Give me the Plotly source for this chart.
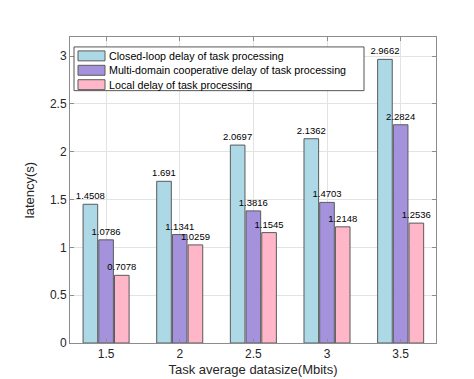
import plotly.graph_objects as go

datasize = [1.5, 2, 2.5, 3, 3.5]
closed_loop = [1.4508, 1.691, 2.0697, 2.1362, 2.9662]
multi_domain = [1.0786, 1.1341, 1.3816, 1.4703, 2.2824]
local_delay = [0.7078, 1.0259, 1.1545, 1.2148, 1.2536]
series_names = [
    "Closed-loop delay of task processing",
    "Multi-domain cooperative delay of task processing",
    "Local delay of task processing",
]
series_colors = ["#ADD8E6", "#A592DC", "#FFB6C8"]
series_values = [closed_loop, multi_domain, local_delay]

W, H = 474, 379
ML, MR, MT, MB = 62, 46, 29, 42
PW, PH = W - ML - MR, H - MT - MB

def px_x(px):
    return (px - ML) / PW

def px_y(py):
    return (H - MB - py) / PH

fig = go.Figure()
for name, vals, col in zip(series_names, series_values, series_colors):
    fig.add_trace(go.Bar(
        x=datasize, y=vals, name=name,
        marker=dict(color=col, line=dict(color="#5a5a5a", width=1)),
        text=[f"{v:g}" for v in vals], textposition="outside",
        textfont=dict(size=9.5, color="black", family="Liberation Sans, Arial"),
        cliponaxis=False, showlegend=False,
    ))

axis_common = dict(
    showgrid=True, gridcolor="#e3e3e3", gridwidth=1,
    showline=True, linecolor="#8c8c8c", linewidth=1, mirror="ticks",
    ticks="inside", ticklen=4, tickcolor="#8c8c8c",
    tickfont=dict(size=12, color="#262626"), zeroline=False,
)

# custom legend box (layout decoration)
shapes = [dict(type="rect", xref="paper", yref="paper",
               x0=px_x(66), x1=px_x(356), y0=px_y(83), y1=px_y(39),
               fillcolor="white", line=dict(color="#555555", width=1), layer="above")]
annotations = []
row_centers = [48, 62.5, 77]
for name, col, yc in zip(series_names, series_colors, row_centers):
    shapes.append(dict(type="rect", xref="paper", yref="paper",
                       x0=px_x(70), x1=px_x(97), y0=px_y(yc + 5), y1=px_y(yc - 5),
                       fillcolor=col, line=dict(color="#5a5a5a", width=1), layer="above"))
    annotations.append(dict(xref="paper", yref="paper", x=px_x(99), y=px_y(yc),
                            xanchor="left", yanchor="middle", text=name, showarrow=False,
                            font=dict(size=10.7, color="black")))

fig.update_layout(
    width=W, height=H,
    margin=dict(l=ML, r=MR, t=MT, b=MB),
    paper_bgcolor="white", plot_bgcolor="white",
    font=dict(family="Liberation Sans, Arial", color="#262626"),
    barmode="group", bargap=0.36, bargroupgap=0.07,
    uniformtext=dict(minsize=9.5, mode="show"),
    showlegend=False,
    shapes=shapes, annotations=annotations,
    xaxis=dict(
        range=[1.255, 3.74], tickvals=datasize, ticktext=["1.5", "2", "2.5", "3", "3.5"],
        title=dict(text="Task average datasize(Mbits)", font=dict(size=13), standoff=4),
        **axis_common,
    ),
    yaxis=dict(
        range=[0, 3.2], tickvals=[0, 0.5, 1, 1.5, 2, 2.5, 3],
        ticktext=["0", "0.5", "1", "1.5", "2", "2.5", "3"],
        title=dict(text="latency(s)", font=dict(size=13), standoff=12),
        **axis_common,
    ),
)

fig.write_html("out.html")
